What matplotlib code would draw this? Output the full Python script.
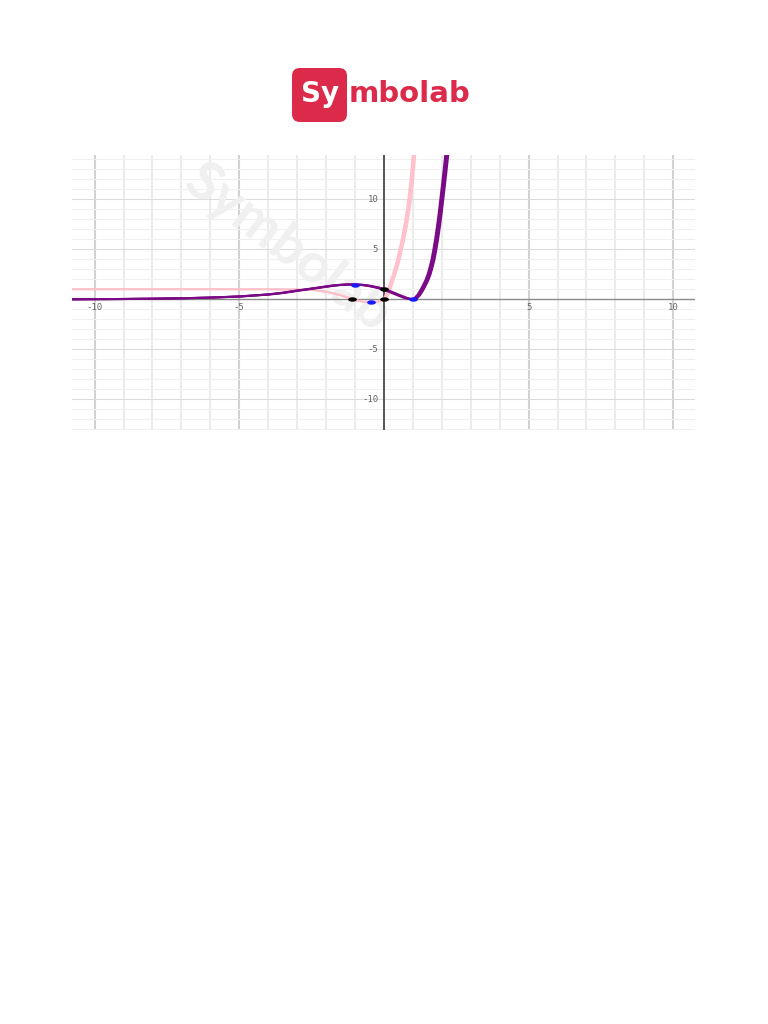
import matplotlib
matplotlib.use("Agg")
import matplotlib.pyplot as plt
from matplotlib.patches import FancyBboxPatch
from matplotlib.path import Path
from matplotlib.transforms import Affine2D

# curves
purple_x = [-10.8, -9, -8, -7, -6, -5, -4, -3.5, -3, -2.5, -2, -1.75, -1.5,
            -1.25, -1, -0.75, -0.5, -0.25, 0, 0.25, 0.5, 0.75, 0.9, 1.0,
            1.07, 1.13, 1.2, 1.26, 1.32, 1.38, 1.44, 1.49, 1.56, 1.62, 1.69,
            1.75, 1.82, 1.88, 1.94, 2.0, 2.06, 2.11, 2.17, 2.24]
purple_y = [0.0, 0.03, 0.06, 0.1, 0.17, 0.28, 0.48, 0.64, 0.86, 1.06, 1.27,
            1.37, 1.44, 1.48, 1.48, 1.44, 1.34, 1.19, 1.0, 0.72, 0.42, 0.14,
            0.03, 0.0, 0.06, 0.2, 0.42, 0.68, 0.98, 1.3, 1.65, 1.95, 2.5, 3.1,
            3.9, 4.8, 6.0, 7.2, 8.5, 10.0, 11.5, 12.8, 14.4, 16.4]

pink_x = [-10.8, -6, -4, -3, -2.5, -2.2, -2, -1.75, -1.5, -1.3, -1.1, -0.9,
          -0.7, -0.44, -0.25, -0.1, 0, 0.04, 0.08, 0.14, 0.2, 0.25, 0.33,
          0.42, 0.5, 0.58, 0.66, 0.74, 0.82, 0.89, 0.96, 1.02, 1.08]
pink_y = [1.0, 1.0, 1.0, 0.98, 0.93, 0.85, 0.76, 0.6, 0.42, 0.22, 0.0, -0.15,
          -0.25, -0.3, -0.24, -0.12, 0.0, 0.12, 0.3, 0.7, 1.15, 1.6, 2.3, 3.1,
          4.0, 5.0, 6.0, 7.2, 8.6, 10.0, 11.9, 13.8, 16.0]

# marked points: extrema (blue) and intercepts (black)
blue_x = [-1, -0.44, 1]
blue_y = [1.47, -0.3, 0]
black_x = [-1.1, 0, 0]
black_y = [0, 0, 1]

x_labels = [-10, -5, 5, 10]
y_labels = [10, 5, -5, -10]

RED = "#dc2a4b"
PURPLE = "#7a0a85"
PINK = "#ffbfcb"

fig = plt.figure(figsize=(7.68, 10.24), dpi=100)

# logo layer in pixel coordinates
lay = fig.add_axes([0, 0, 1, 1])
lay.set_xlim(0, 768)
lay.set_ylim(1024, 0)
lay.axis("off")
lay.add_patch(FancyBboxPatch((292, 68), 55, 54,
                             boxstyle="round,pad=0,rounding_size=8",
                             fc=RED, ec="none"))
lay.text(320, 102, "Sy", color="white", fontsize=20, fontweight="bold",
         family="DejaVu Sans", ha="center", va="baseline")
lay.text(349, 102, "mbolab", color=RED, fontsize=21, fontweight="bold",
         family="DejaVu Sans", ha="left", va="baseline")

ax = fig.add_axes([72 / 768, 1 - 430 / 1024, 623 / 768, 275 / 1024])
ax.set_xlim(-10.78, 10.75)
ax.set_ylim(-13.07, 14.43)
ax.axis("off")

# grid: vertical lines look thicker since the picture is stretched sideways
for v in range(-10, 11):
    if v == 0:
        continue
    ax.axvline(v, color="#d2d2d2" if v % 5 == 0 else "#ebebeb",
               lw=1.5, zorder=1)
for h in range(-13, 15):
    if h == 0:
        continue
    ax.axhline(h, color="#dcdcdc" if h % 5 == 0 else "#f0f0f0",
               lw=0.8, zorder=1)
ax.axhline(0, color="#8a8a8a", lw=1.0, zorder=2)
ax.axvline(0, color="#555555", lw=1.4, zorder=2)

for v in x_labels:
    ax.text(v, -0.35, str(v), ha="center", va="top", fontsize=6.5,
            family="DejaVu Sans Mono", color="#666666", zorder=2)
for v in y_labels:
    ax.text(-0.2, v, str(v), ha="right", va="center", fontsize=6.5,
            family="DejaVu Sans Mono", color="#666666", zorder=2)

ax.text(288 / 768, 1 - 248 / 1024, "Symbolab", transform=fig.transFigure,
        rotation=-37, fontsize=40, fontweight="bold", family="Lato",
        color="#f0f0f0", ha="center", va="center", zorder=1.5)

# draw each curve a few times shifted sideways to mimic the horizontal stretch
for dx in (-0.05, 0, 0.05):
    ax.plot([x + dx for x in pink_x], pink_y, color=PINK, lw=1.2,
            solid_capstyle="round", solid_joinstyle="round", zorder=3)
for dx in (-0.05, 0, 0.05):
    ax.plot([x + dx for x in purple_x], purple_y, color=PURPLE, lw=1.5,
            solid_capstyle="round", solid_joinstyle="round", zorder=4)

ellipse = Path.unit_circle().transformed(Affine2D().scale(2.0, 1.0))
ax.scatter(blue_x, blue_y, marker=ellipse, s=40, color="#1a1aff",
           zorder=5, linewidths=0)
ax.scatter(black_x, black_y, marker=ellipse, s=40, color="black",
           zorder=5, linewidths=0)

fig.savefig("out.png", dpi=100, facecolor="white")
